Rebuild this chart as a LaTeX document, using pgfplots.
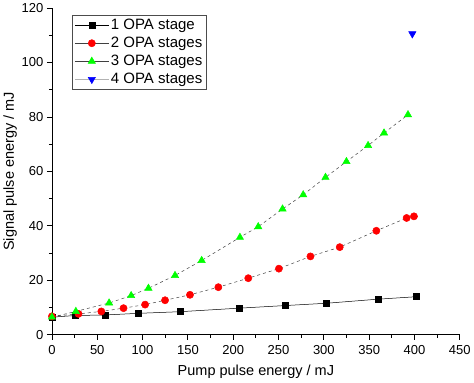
\documentclass[border=0pt]{standalone}
\usepackage{pgfplots}
\pgfplotsset{compat=1.18}
\usepackage{fontspec}
\setmainfont{Liberation Sans}
\begin{document}
\begin{tikzpicture}
\begin{axis}[
  scale only axis,
  width=408pt, height=327pt,
  xmin=0, xmax=450, ymin=0, ymax=120,
  axis x line*=bottom, axis y line*=left,
  xtick={0,50,...,450}, ytick={0,20,...,120},
  minor x tick num=1, minor y tick num=1,
  tick align=outside,
  major tick length=5pt, minor tick length=3pt,
  tick style={black, line width=0.8pt},
  axis line style={line width=0.8pt},
  /pgf/number format/assume math mode=true,
  ticklabel style={font=\fontsize{13}{15}\selectfont},
  xticklabel style={yshift=-2pt},
  xlabel={Pump pulse energy / mJ},
  ylabel={Signal pulse energy / mJ},
  label style={font=\fontsize{14.5}{17}\selectfont},
  xlabel style={yshift=-4pt},
  ylabel style={yshift=-2pt},
  clip=false,
  legend style={at={(0.05,0.978)}, anchor=north west, draw=black!70, line width=0.5pt,
    font=\fontsize{15}{17}\selectfont, row sep=2.5pt, inner sep=2pt,
    nodes={inner sep=1.8pt}},
  legend cell align=left,
  legend image code/.code={\draw[mark repeat=2,mark phase=2,#1,solid] plot coordinates {(0pt,0pt)(17pt,0pt)(34pt,0pt)};},
]
\addplot[black, line width=0.5pt, mark=square*, mark size=3pt, mark options={solid, fill=black}]
coordinates {(0,6.5)(25.7,7.1)(58.7,7.3)(95.4,7.9)(141.3,8.5)(206.7,9.8)(257,10.75)(302.9,11.6)(359.8,13.1)(402,14.0)};
\addlegendentry{1 OPA stage}
\addplot[black!75, line width=0.5pt, dashed, mark=*, mark size=3.6pt, mark options={solid, draw=red, fill=red}]
coordinates {(0,6.8)(29.3,7.7)(54.5,8.6)(79,9.8)(102.8,11.1)(124.8,12.7)(152.3,14.7)(183.6,17.5)(216.6,20.8)(250.4,24.3)(285.2,28.8)(317.5,32.2)(357.9,38.2)(391.3,42.9)(399.4,43.5)};
\addlegendentry{2 OPA stages}
\addplot[black!75, line width=0.5pt, dashed, mark=triangle*, mark size=4.2pt, mark options={solid, draw=green, fill=green}]
coordinates {(0,6.5)(26.4,8.6)(63.1,11.7)(87.4,14.4)(106.5,17.1)(135.8,21.8)(165.2,27.3)(207.4,35.8)(227.6,39.7)(254.4,46.2)(277.2,51.4)(301.8,57.8)(324.9,63.6)(348.8,69.5)(366.4,74.1)(392.8,80.8)};
\addlegendentry{3 OPA stages}
\addplot[black!30, line width=0.5pt, mark=triangle*, mark size=4.2pt, mark options={solid, draw=blue, fill=blue, rotate=180}]
coordinates {(397.6,110.5)};
\addlegendentry{4 OPA stages}
\end{axis}
\end{tikzpicture}
\end{document}
